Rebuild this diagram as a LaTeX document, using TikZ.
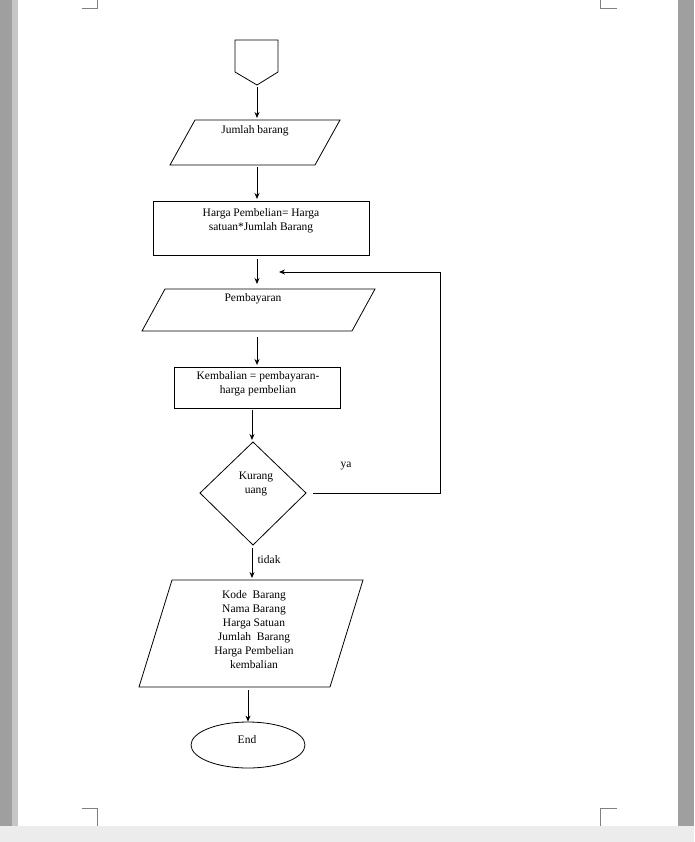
\documentclass[tikz,border=0pt]{standalone}
\usepackage{fontspec}
\setmainfont{Liberation Serif}
\usetikzlibrary{shapes.geometric,arrows.meta}
\begin{document}
\begin{tikzpicture}[x=1pt,y=-1pt,
  box/.style={draw,thick},
  arr/.style={draw,thick,-{Stealth[length=6pt,width=5pt]}},
  txt/.style={font=\fontsize{11.5}{14}\selectfont,align=center,inner sep=0pt}]
\useasboundingbox (0,0) rectangle (694,842);
\fill[gray!75] (0,0) rectangle (18,842);
\fill[gray!75] (678,0) rectangle (694,842);
\fill[gray!15] (0,826) rectangle (694,842);
\fill[gray!45] (12,0) rectangle (18,826);
\draw[gray] (82,8) -- (97,8) -- (97,0);
\draw[gray] (600,0) -- (600,8) -- (617,8);
\draw[gray] (82,808) -- (97,808) -- (97,826);
\draw[gray] (600,826) -- (600,808) -- (617,808);
% shapes
\draw[box] (235,40) -- (278,40) -- (278,72) -- (257,85) -- (235,72) -- cycle;
\coordinate (c0) at (257,87);
\draw[box] (195,120) -- (340,120) -- (315,165) -- (170,165) -- cycle;
\node[txt] (p1) at (255,131) {Jumlah barang};
\coordinate (p1t) at (257,118); \coordinate (p1b) at (257,167);
\draw[box] (153,201) rectangle (369,255);
\node[txt] (r1) at (261,221) {Harga Pembelian= Harga\\satuan*Jumlah Barang};
\coordinate (r1t) at (257,199); \coordinate (r1b) at (257,259);
\draw[box] (165,289) -- (375,289) -- (352,331) -- (142,331) -- cycle;
\node[txt] (p2) at (253,299) {Pembayaran};
\coordinate (p2t) at (257,287); \coordinate (p2b) at (257,337);
\draw[box] (174,367) rectangle (340,408);
\node[txt] (r2) at (258,384) {Kembalian = pembayaran-\\harga pembelian};
\coordinate (r2t) at (257,365); \coordinate (r2b) at (252,410);
\draw[box] (253,442) -- (306,493) -- (253,545) -- (200,493) -- cycle;
\node[txt] (d) at (256,484) {Kurang\\uang};
\coordinate (dt) at (252,440); \coordinate (db) at (252,548); \coordinate (dr) at (313,493);
\coordinate (k1) at (440,493); \coordinate (k2) at (440,272); \coordinate (k3) at (279,272);
\draw[thick] (dr) -- (k1) -- (k2) -- ++(-20,0);
\draw[arr] (k2) -- (k3);
\node[txt] (ya) at (346,466) {ya};
\draw[box] (172,580) -- (363,580) -- (330,687) -- (139,687) -- cycle;
\node[txt] (p3) at (254,630) {Kode\ \ Barang\\Nama Barang\\Harga Satuan\\Jumlah\ \ Barang\\Harga Pembelian\\kembalian};
\coordinate (p3t) at (252,578); \coordinate (p3b) at (248,690);
\node[txt] (tidak) at (269,560) {tidak};
\node[draw,thick,ellipse,minimum width=114pt,minimum height=46pt] (end) at (248,745) {};
\node[txt] (endt) at (247,740) {End};
% arrows
\draw[arr] (c0) -- (p1t);
\draw[arr] (p1b) -- (r1t);
\draw[arr] (r1b) -- (257,284);
\draw[arr] (p2b) -- (r2t);
\draw[arr] (r2b) -- (dt);
\draw[arr] (db) -- (p3t);
\draw[arr] (p3b) -- (end);
\end{tikzpicture}
\end{document}
